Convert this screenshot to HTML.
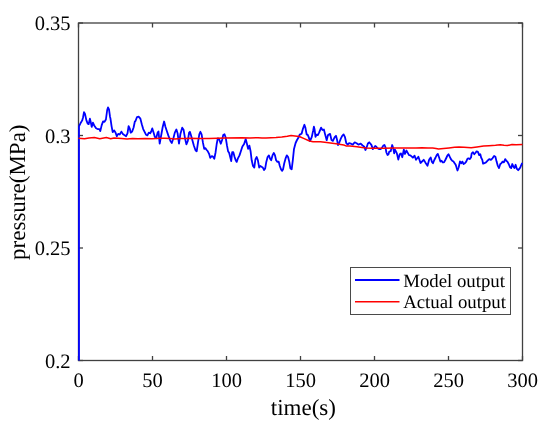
<!DOCTYPE html>
<html><head><meta charset="utf-8"><style>
html,body{margin:0;padding:0;background:#fff;}
svg{display:block;}
text{font-family:"Liberation Serif", "Times New Roman", serif;fill:#000;text-rendering:geometricPrecision;}
</style></head><body>
<svg width="550" height="431" viewBox="0 0 550 431">
<rect x="0" y="0" width="550" height="431" fill="#fff"/>
<g stroke="#404040" stroke-width="1.3" fill="none">
<rect x="78.5" y="23.0" width="444.0" height="337.5"/>
<line x1="78.5" y1="360.5" x2="78.5" y2="356.0"/><line x1="78.5" y1="23.0" x2="78.5" y2="27.5"/><line x1="152.5" y1="360.5" x2="152.5" y2="356.0"/><line x1="152.5" y1="23.0" x2="152.5" y2="27.5"/><line x1="226.5" y1="360.5" x2="226.5" y2="356.0"/><line x1="226.5" y1="23.0" x2="226.5" y2="27.5"/><line x1="300.5" y1="360.5" x2="300.5" y2="356.0"/><line x1="300.5" y1="23.0" x2="300.5" y2="27.5"/><line x1="374.5" y1="360.5" x2="374.5" y2="356.0"/><line x1="374.5" y1="23.0" x2="374.5" y2="27.5"/><line x1="448.5" y1="360.5" x2="448.5" y2="356.0"/><line x1="448.5" y1="23.0" x2="448.5" y2="27.5"/><line x1="522.5" y1="360.5" x2="522.5" y2="356.0"/><line x1="522.5" y1="23.0" x2="522.5" y2="27.5"/><line x1="78.5" y1="360.5" x2="83.0" y2="360.5"/><line x1="522.5" y1="360.5" x2="518.0" y2="360.5"/><line x1="78.5" y1="248.0" x2="83.0" y2="248.0"/><line x1="522.5" y1="248.0" x2="518.0" y2="248.0"/><line x1="78.5" y1="135.5" x2="83.0" y2="135.5"/><line x1="522.5" y1="135.5" x2="518.0" y2="135.5"/><line x1="78.5" y1="23.0" x2="83.0" y2="23.0"/><line x1="522.5" y1="23.0" x2="518.0" y2="23.0"/>
</g>
<path d="M79.0 360.5 L79.0 126.3 L80.8 122.7 L82.2 120.4 L83.1 117.2 L84.0 112.1 L85.0 113.9 L86.4 120.4 L87.7 123.7 L88.7 124.1 L89.9 118.6 L90.8 122.3 L91.7 126.9 L92.9 122.7 L94.2 125.5 L96.1 128.3 L98.0 129.2 L99.4 129.2 L100.3 131.1 L101.7 125.1 L103.1 121.4 L104.5 121.8 L105.9 119.5 L107.2 110.0 L108.0 107.4 L109.0 109.3 L110.0 116.7 L110.4 118.2 L111.6 126.3 L112.7 132.1 L114.2 130.4 L115.6 132.7 L116.8 136.2 L118.2 133.9 L119.7 134.5 L121.4 131.6 L122.8 133.9 L124.3 135.0 L126.1 136.2 L127.5 133.3 L128.6 126.1 L129.8 128.7 L130.7 132.7 L132.1 131.6 L133.6 127.5 L134.8 121.7 L135.6 120.8 L137.0 117.0 L138.6 116.6 L140.4 118.7 L141.8 124.2 L143.2 129.1 L144.6 131.9 L146.0 134.7 L147.4 135.4 L148.8 132.6 L150.2 133.3 L151.2 131.5 L152.3 128.4 L153.4 131.9 L154.8 136.8 L156.2 138.2 L157.6 132.6 L158.5 131.5 L159.7 143.7 L160.9 136.8 L162.7 127.0 L164.1 121.5 L165.5 127.0 L166.9 131.2 L168.3 135.4 L170.4 141.0 L171.8 143.0 L173.4 138.2 L174.8 132.6 L176.4 129.5 L177.6 133.3 L179.0 143.7 L180.4 134.0 L182.2 127.7 L183.6 129.8 L185.0 138.2 L186.4 144.4 L187.8 141.0 L189.1 132.6 L189.9 131.8 L191.2 135.9 L192.3 140.0 L193.9 145.7 L195.6 150.5 L196.7 151.3 L198.0 142.4 L199.3 134.3 L200.4 131.8 L201.6 134.3 L202.9 142.4 L204.2 148.9 L205.3 148.1 L206.5 149.7 L207.8 151.3 L209.1 153.8 L210.2 157.8 L211.8 156.2 L213.0 156.7 L214.3 158.7 L215.6 152.2 L216.7 144.0 L217.8 138.3 L219.1 139.1 L220.8 143.7 L222.1 140.0 L223.2 135.1 L224.5 134.3 L225.7 137.5 L227.0 145.7 L228.1 151.3 L229.2 153.0 L230.2 157.0 L231.2 161.1 L232.2 152.2 L233.3 152.2 L234.6 157.0 L235.7 160.3 L236.7 161.9 L237.8 158.7 L239.5 155.4 L241.1 150.5 L242.4 146.5 L244.1 144.0 L245.7 139.1 L246.8 143.2 L248.1 148.9 L249.4 145.7 L250.6 151.3 L251.7 160.3 L253.0 166.0 L254.3 167.6 L255.4 159.5 L256.7 157.0 L257.9 160.3 L259.2 167.6 L260.3 166.0 L261.5 166.8 L262.8 167.6 L264.1 170.0 L265.2 168.4 L266.3 161.9 L267.6 157.0 L268.9 155.4 L270.1 158.7 L271.2 160.3 L272.5 155.4 L273.8 153.0 L275.0 155.4 L276.1 160.3 L277.4 161.9 L278.7 161.6 L279.8 166.0 L281.0 169.2 L282.0 170.9 L283.1 169.2 L284.2 163.5 L285.5 158.7 L286.8 155.4 L288.1 157.0 L289.3 161.9 L290.4 168.4 L291.7 169.2 L292.8 160.3 L294.0 148.9 L295.6 143.0 L297.0 140.0 L298.4 137.8 L299.7 134.6 L301.6 133.7 L303.0 128.6 L304.4 124.8 L305.3 127.2 L306.7 134.6 L307.6 134.6 L308.6 136.9 L310.0 141.1 L311.8 136.9 L313.2 130.4 L313.9 126.7 L314.6 129.5 L315.5 136.9 L316.5 134.6 L317.8 135.1 L319.2 132.3 L321.1 127.6 L322.5 130.0 L323.9 129.5 L325.3 135.1 L326.7 140.2 L328.0 135.1 L330.1 133.9 L331.5 140.0 L332.9 140.9 L334.7 137.2 L336.0 135.8 L337.1 140.0 L338.0 145.1 L339.4 142.3 L340.8 138.6 L342.2 135.8 L343.6 134.4 L345.0 137.2 L346.3 143.2 L347.7 144.6 L349.1 143.2 L351.0 143.7 L352.8 144.6 L354.7 142.3 L356.6 143.2 L358.4 144.6 L360.7 143.7 L362.6 145.5 L364.3 146.7 L365.4 150.0 L366.6 147.5 L367.9 143.5 L369.2 142.3 L370.3 143.5 L371.5 145.1 L372.8 149.1 L374.1 147.5 L375.2 145.9 L376.3 146.7 L377.6 148.3 L378.9 149.1 L380.6 149.1 L381.7 148.3 L383.3 145.6 L384.5 145.0 L385.4 147.0 L386.4 152.5 L387.5 155.0 L388.5 154.2 L389.3 151.6 L390.7 151.2 L392.2 145.0 L393.3 148.4 L394.2 153.4 L395.0 149.6 L396.8 153.1 L398.3 159.5 L399.7 154.3 L400.9 153.4 L402.3 157.2 L403.8 149.6 L405.0 154.0 L406.4 150.5 L407.9 153.1 L409.0 155.1 L410.4 155.3 L412.9 157.7 L414.6 155.7 L416.0 159.8 L418.4 156.7 L420.5 163.0 L423.7 159.8 L425.3 162.4 L427.5 165.7 L429.2 159.5 L430.7 157.5 L431.8 161.6 L433.0 163.2 L434.3 160.0 L435.6 157.5 L436.7 155.1 L437.8 153.9 L439.1 157.5 L440.4 161.6 L441.6 160.8 L442.7 162.4 L444.0 162.4 L445.3 160.0 L446.5 157.5 L447.6 155.1 L448.6 154.3 L449.7 156.7 L450.9 159.1 L452.2 160.8 L453.5 161.6 L454.6 163.2 L455.7 164.8 L456.7 168.1 L457.5 170.5 L458.7 167.3 L460.0 161.5 L461.3 163.2 L462.4 161.6 L463.6 164.0 L464.9 163.2 L466.2 161.6 L467.3 159.1 L468.4 158.3 L469.7 159.1 L471.0 157.5 L471.7 153.4 L473.0 152.3 L474.3 154.2 L475.4 153.0 L476.6 151.3 L477.9 151.8 L479.2 155.1 L480.3 154.2 L481.1 157.5 L482.3 159.9 L483.1 163.7 L484.4 163.2 L486.0 162.4 L487.6 160.7 L489.2 159.1 L490.9 159.9 L492.5 158.3 L494.1 155.9 L495.4 156.7 L496.6 161.6 L497.7 165.6 L499.0 168.1 L500.3 164.0 L501.4 163.2 L502.6 161.6 L503.9 162.4 L505.2 159.1 L506.3 160.7 L507.4 161.6 L508.7 164.0 L510.0 167.2 L511.2 168.1 L512.3 164.0 L513.3 166.4 L514.4 168.1 L515.6 164.8 L516.9 168.9 L518.2 170.2 L519.3 168.9 L520.4 167.2 L521.7 164.0 L522.4 163.0" fill="none" stroke="#0000ff" stroke-width="1.8" stroke-linejoin="round"/>
<path d="M78.5 138.2 L84.5 138.7 L88.9 137.9 L94.4 137.6 L99.8 138.7 L106.4 137.6 L110.7 138.7 L114.0 137.9 L121.6 138.5 L127.0 138.9 L132.5 138.5 L138.0 138.7 L145.0 138.6 L152.0 138.7 L160.0 138.3 L165.0 138.2 L170.0 138.6 L175.0 138.9 L180.0 138.5 L185.0 138.5 L190.0 138.2 L198.0 138.6 L209.0 138.6 L225.0 138.1 L242.0 137.8 L250.0 137.9 L258.0 137.8 L262.0 137.9 L266.0 138.0 L271.0 137.8 L276.0 137.5 L281.8 137.0 L287.3 136.2 L291.1 135.4 L294.9 135.9 L299.3 136.5 L303.6 138.4 L309.5 141.0 L313.0 141.8 L320.5 141.7 L326.8 142.6 L336.0 143.8 L343.8 145.0 L346.0 145.9 L350.0 146.1 L357.0 146.8 L362.0 147.6 L366.0 148.0 L372.7 148.3 L383.6 148.3 L394.5 148.0 L400.0 147.9 L410.0 148.0 L416.0 148.0 L421.8 147.8 L428.0 147.9 L432.7 147.9 L436.0 148.4 L438.5 148.9 L443.6 148.4 L449.0 147.9 L454.5 147.3 L459.0 146.9 L464.0 147.3 L471.2 147.8 L477.0 147.0 L483.6 146.1 L489.0 145.7 L495.5 145.3 L500.2 144.8 L504.0 145.3 L507.3 145.6 L512.0 144.6 L516.0 144.7 L522.4 144.6" fill="none" stroke="#ff0000" stroke-width="1.5" stroke-linejoin="round"/>
<g font-size="20.5">
<text x="78.5" y="387" text-anchor="middle">0</text><text x="152.5" y="387" text-anchor="middle">50</text><text x="226.5" y="387" text-anchor="middle">100</text><text x="300.5" y="387" text-anchor="middle">150</text><text x="374.5" y="387" text-anchor="middle">200</text><text x="448.5" y="387" text-anchor="middle">250</text><text x="522.5" y="387" text-anchor="middle">300</text>
<text x="70.5" y="367.5" text-anchor="end">0.2</text><text x="70.5" y="255.0" text-anchor="end">0.25</text><text x="70.5" y="142.5" text-anchor="end">0.3</text><text x="70.5" y="30.0" text-anchor="end">0.35</text>
</g>
<text x="303.4" y="414.7" text-anchor="middle" font-size="23">time(s)</text>
<text transform="translate(25.4 192.2) rotate(-90)" text-anchor="middle" font-size="23">pressure(MPa)</text>
<rect x="350.5" y="267.5" width="160" height="47" fill="#fff" stroke="#4a4a4a" stroke-width="1"/>
<line x1="355" y1="280" x2="399.5" y2="280" stroke="#0000ff" stroke-width="1.8"/>
<line x1="355" y1="301.7" x2="399.5" y2="301.7" stroke="#ff0000" stroke-width="1.5"/>
<text x="403.2" y="287.1" font-size="18.8">Model output</text>
<text x="403.2" y="308.4" font-size="18.8">Actual output</text>
</svg>
</body></html>
